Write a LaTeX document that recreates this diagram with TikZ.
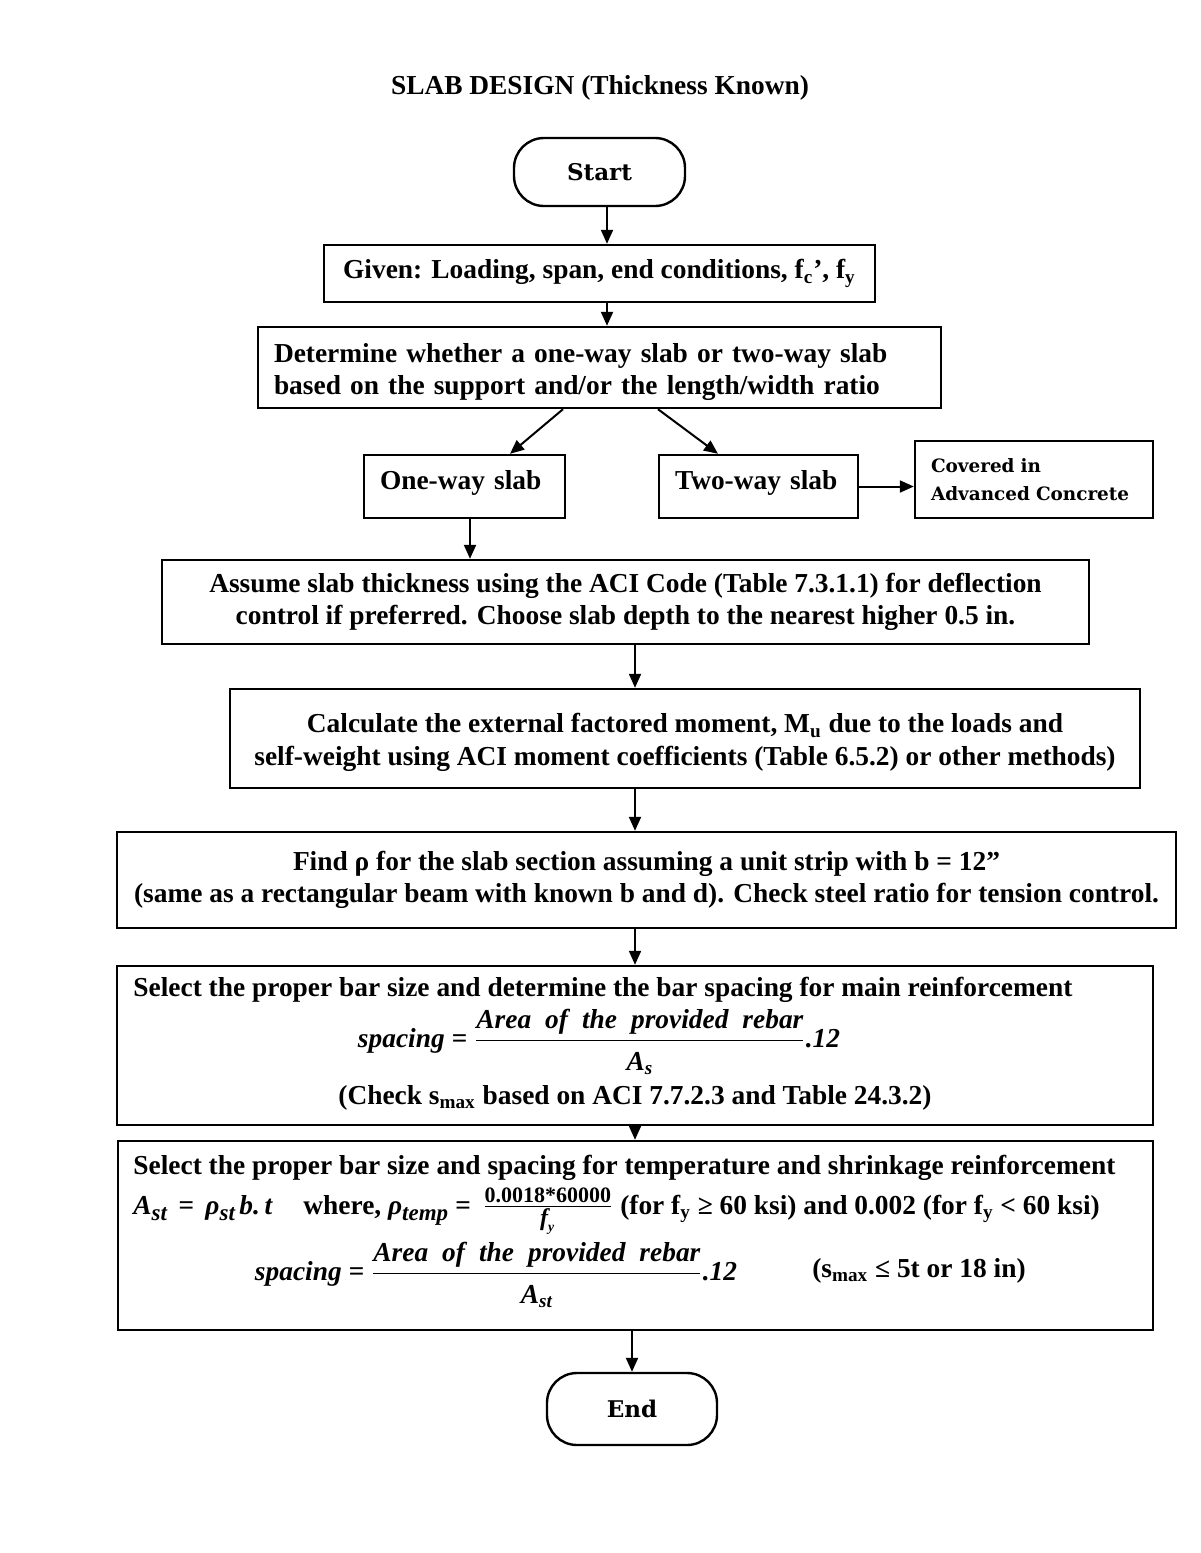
\documentclass[tikz,border=0pt]{standalone}
\usepackage{fontspec}
\usepackage{amsmath}
\newfontfamily\tnr{Liberation Serif}
\newfontfamily\dvs{DejaVu Serif}
\usetikzlibrary{arrows.meta}
\newcommand{\wsp}{\spaceskip=7pt plus 1pt\relax}
\newcommand{\lsub}[1]{\raisebox{-3.2pt}{\fontsize{11.5}{12}\selectfont #1}}
\begin{document}
\begin{tikzpicture}[x=0.5pt,y=-0.5pt,
  every node/.style={font=\tnr\bfseries\fontsize{13.7}{16}\selectfont, inner sep=0pt},
  box/.style={draw, line width=1.2pt, inner xsep=8pt, inner ysep=0pt},
  term/.style={draw, line width=1.2pt, rounded corners=15pt, font=\dvs\bfseries\fontsize{11.5}{14}\selectfont},
  arr/.style={line width=1pt, -{Triangle[length=7pt,width=6pt]}}]
\fill[white] (0,0) rectangle (1200,1553);
\useasboundingbox (0,0) rectangle (1200,1553);

\node (title) at (600,88) {SLAB DESIGN (Thickness Known)};
\node[term, minimum width=85.5pt, minimum height=34pt] (start) at (599.5,172) {Start};
\node[box, minimum width=275.5pt, minimum height=28.5pt] (given) at (599.5,273.5) {Given: Loading, span, end conditions, f\textsubscript{c}’, f\textsubscript{y}};
\node[box, text width=325.5pt, align=left, minimum height=40.5pt] (det) at (599.5,367.5) {\rule{0pt}{14.5pt}Determine whether a one-way slab or two-way slab\\based on the support and/or the length/width ratio};
\node[box, text width=84.5pt, align=left, minimum height=31.5pt, text height=9.5pt, text depth=7pt] (one) at (464.5,486.5) {One-way slab};
\node[box, text width=83.5pt, align=left, minimum height=31.5pt, text height=9.5pt, text depth=7pt] (two) at (758.5,486.5) {Two-way slab};
\node[box, text width=103pt, align=left, minimum height=38.5pt, font=\dvs\bfseries\fontsize{9.2}{14}\selectfont] (cov) at (1034,479.5) {Covered in\\Advanced Concrete};
\node[box, minimum width=463.5pt, align=center, minimum height=42pt] (assume) at (625.5,602) {Assume slab thickness using the ACI Code (Table 7.3.1.1) for deflection\\control if preferred. Choose slab depth to the nearest higher 0.5 in.};
\node[box, minimum width=455pt, align=center, minimum height=49.5pt, font=\tnr\bfseries\fontsize{13.7}{16.5}\selectfont] (calc) at (685,738.5) {\rule{0pt}{14pt}Calculate the external factored moment, M\textsubscript{u} due to the loads and\\self-weight using ACI moment coefficients (Table 6.5.2) or other methods)};
\node[box, minimum width=529.5pt, align=center, minimum height=48pt] (find) at (646.5,880) {Find ρ for the slab section assuming a unit strip with b = 12”\\(same as a rectangular beam with known b and d). Check steel ratio for tension control.};

\node[box, minimum width=518pt, minimum height=79.5pt] (sel) at (635,1045.5) {};
\node[anchor=west] (sel1) at (133,990) {Select the proper bar size and determine the bar spacing for main reinforcement};
\node (sel2) at (599,1042) {\itshape spacing = $\dfrac{\text{\wsp Area of the provided rebar}}{\text{\rule{0pt}{13pt}A}_{\text{s}}}$.12};
\node (sel3) at (635,1098) {(Check s\textsubscript{max} based on ACI 7.7.2.3 and Table 24.3.2)};

\node[box, minimum width=517.5pt, minimum height=94.5pt] (temp) at (635.5,1235.5) {};
\node[anchor=west] (t1) at (133,1168) {Select the proper bar size and spacing for temperature and shrinkage reinforcement};
\node[anchor=base west] (t2a) at (133,1214) {\itshape A\lsub{st}\, =\, ρ\lsub{st}\,b.\,t};
\node[anchor=base west] (t2b) at (303,1214) {where, \itshape ρ\lsub{temp} =\, $\frac{\text{\upshape\fontsize{11}{12}\selectfont 0.0018*60000}}{\text{\fontsize{12}{12}\selectfont f}_{\text{y}}}$ \upshape(for f\textsubscript{y} ≥ 60 ksi) and 0.002 (for f\textsubscript{y} < 60 ksi)};
\node (t3) at (496,1275) {\itshape spacing = $\dfrac{\text{\wsp Area of the provided rebar}}{\text{\rule{0pt}{13pt}A}_{\text{st}}}$.12};
\node (t4) at (919,1271) {(s\textsubscript{max} ≤ 5t or 18 in)};

\node[term, minimum width=85pt, minimum height=36pt] (end) at (632,1409) {End};

\coordinate (xa) at (607,0);
\coordinate (xb) at (563,0);
\coordinate (xc) at (510,0);
\coordinate (xd) at (658,0);
\coordinate (xe) at (718,0);
\coordinate (xf) at (470,0);
\coordinate (xg) at (635,0);
\coordinate (xh) at (632,0);
\draw[arr] (xa |- start.south) -- (xa |- given.north);
\draw[arr] (xa |- given.south) -- (xa |- det.north);
\draw[arr] (xb |- det.south) -- (xc |- one.north);
\draw[arr] (xd |- det.south) -- (xe |- two.north);
\draw[arr] (two.east) -- (cov.west |- two.east);
\draw[arr] (xf |- one.south) -- (xf |- assume.north);
\draw[arr] (xg |- assume.south) -- (xg |- calc.north);
\draw[arr] (xg |- calc.south) -- (xg |- find.north);
\draw[arr] (xg |- find.south) -- (xg |- sel.north);
\draw[arr] (xg |- sel.south) -- (xg |- temp.north);
\draw[arr] (xh |- temp.south) -- (end.north);
\end{tikzpicture}
\end{document}
